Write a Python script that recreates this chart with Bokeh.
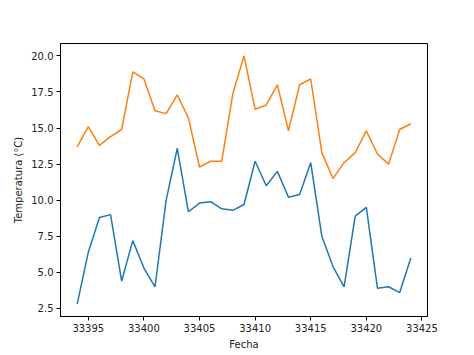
from bokeh.plotting import figure
from bokeh.models import FixedTicker, NumeralTickFormatter, Range1d
from bokeh.embed import file_html
from bokeh.resources import INLINE

fechas = list(range(33394, 33425))
temp_min = [2.8, 6.4, 8.8, 9.0, 4.4, 7.2, 5.3, 4.0, 10.0, 13.6, 9.2, 9.8, 9.9, 9.4, 9.3, 9.7,
            12.7, 11.0, 12.0, 10.2, 10.4, 12.6, 7.5, 5.4, 4.0, 8.9, 9.5, 3.9, 4.0, 3.6, 6.0]
temp_max = [13.7, 15.1, 13.8, 14.4, 14.9, 18.9, 18.4, 16.2, 16.0, 17.3, 15.7, 12.3, 12.7, 12.7, 17.4, 20.0,
            16.3, 16.6, 18.0, 14.8, 18.0, 18.4, 13.3, 11.5, 12.6, 13.3, 14.8, 13.2, 12.5, 14.9, 15.3]
x_ticks = [33395, 33400, 33405, 33410, 33415, 33420, 33425]
y_ticks = [2.5, 5.0, 7.5, 10.0, 12.5, 15.0, 17.5, 20.0]

xpad = (max(fechas) - min(fechas)) * 0.05
all_y = temp_min + temp_max
ypad = (max(all_y) - min(all_y)) * 0.05

p = figure(width=474, height=355, output_backend="svg", toolbar_location=None,
           x_range=Range1d(min(fechas) - xpad, max(fechas) + xpad),
           y_range=Range1d(min(all_y) - ypad, max(all_y) + ypad),
           min_border_left=60, min_border_right=47, min_border_top=43, min_border_bottom=39)
p.line(fechas, temp_min, line_color="#1f77b4", line_width=1.5)
p.line(fechas, temp_max, line_color="#ff7f0e", line_width=1.5)

p.xgrid.visible = False
p.ygrid.visible = False
p.outline_line_color = "black"
p.outline_line_width = 1
p.xaxis.ticker = FixedTicker(ticks=x_ticks)
p.yaxis.ticker = FixedTicker(ticks=y_ticks)
p.xaxis.formatter = NumeralTickFormatter(format="0")
p.yaxis.formatter = NumeralTickFormatter(format="0.0")
p.xaxis.axis_label = "Fecha"
p.yaxis.axis_label = "Temperatura (°C)"
for ax in (p.xaxis, p.yaxis):
    ax.major_label_text_font = "DejaVu Sans"
    ax.major_label_text_font_size = "10px"
    ax.major_label_text_color = "#222222"
    ax.axis_label_text_font = "DejaVu Sans"
    ax.axis_label_text_font_size = "10px"
    ax.axis_label_text_font_style = "normal"
    ax.axis_label_text_color = "#222222"
    ax.minor_tick_line_color = None
    ax.major_tick_out = 4
    ax.major_tick_in = 0
    ax.major_tick_line_color = "black"
    ax.axis_line_color = "black"
    ax.major_label_standoff = 3
    ax.axis_label_standoff = 4

open("out.html", "w").write(file_html(p, INLINE))
